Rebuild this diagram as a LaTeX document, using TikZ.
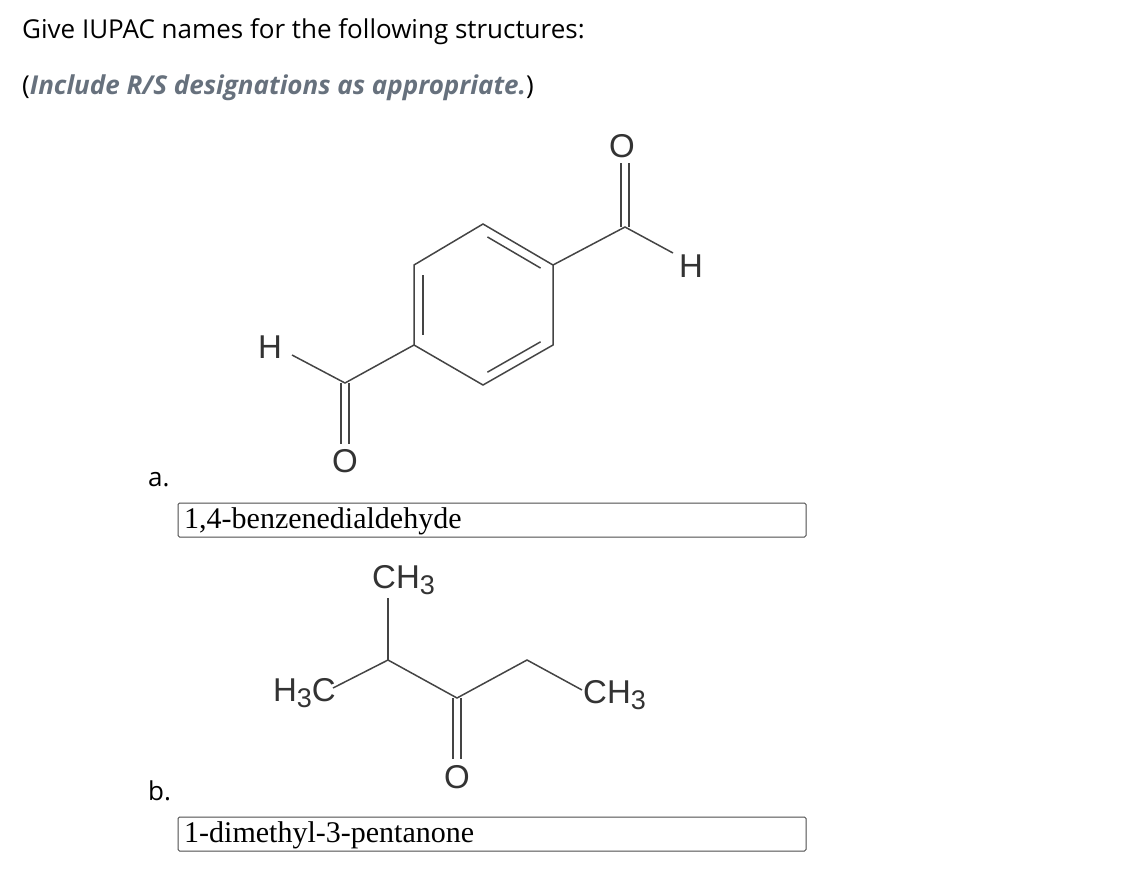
\documentclass[tikz,border=0pt]{standalone}
\usepackage{fontspec}
\usetikzlibrary{calc}
\setmainfont{Open Sans}
\newfontfamily\chem{Liberation Sans}
\newfontfamily\ans{Liberation Serif}
\definecolor{slate}{HTML}{67717D}
\definecolor{bond}{HTML}{444444}
\newcommand{\sbs}[1]{\raisebox{-0.3ex}{\fontsize{27}{27}\selectfont #1}}
\begin{document}
\begin{tikzpicture}[x=1pt,y=-1pt,
  bnd/.style={draw=bond,line width=1.5pt},
  atom/.style={font=\chem\fontsize{33}{33}\selectfont,text=black!80,inner sep=0pt},
  ansbox/.style={draw=black!70,line width=1pt,rounded corners=1.5pt},
  anstext/.style={font=\ans\fontsize{30}{30}\selectfont,anchor=west,inner sep=0pt},
  lbl/.style={font=\fontsize{26}{26}\selectfont,anchor=base west,inner sep=0pt}]
\useasboundingbox (0,0) rectangle (1146,876);
\node[lbl] (title) at (22,38) {Give IUPAC names for the following structures:};
\node[lbl] (note) at (22,94) {(\textcolor{slate}{\bfseries\itshape Include R/S designations as appropriate.})};
\node[lbl] (la) at (148,486) {a.};
\node[lbl] (lb) at (148,800) {b.};
% answer boxes
\draw[ansbox] (178,503) rectangle (806,537);
\node[anstext] (ansa) at (184,521) {1,4-benzenedialdehyde};
\draw[ansbox] (178,817) rectangle (806,851);
\node[anstext] (ansb) at (184,835) {1-dimethyl-3-pentanone};
% benzene
\coordinate (t) at (483,224);
\coordinate (ur) at (553,265);
\coordinate (lr) at (553,345);
\coordinate (bo) at (483,385);
\coordinate (ll) at (414,345);
\coordinate (ul) at (414,265);
\draw[bnd] (t)--(ur)--(lr)--(bo)--(ll)--(ul)--cycle;
\draw[bnd] ($(t)!0.12!(ur)+(-4,8)$) -- ($(t)!0.88!(ur)+(-4,8)$);
\draw[bnd] (423,275) -- (423,335);
\draw[bnd] ($(lr)!0.12!(bo)+(-4,-8)$) -- ($(lr)!0.88!(bo)+(-4,-8)$);
% right CHO
\coordinate (c1) at (625,227);
\node[atom] (o1) at (622,146) {O};
\node[atom] (h1) at (691,266) {H};
\draw[bnd] (ur) -- (c1) -- (673,253);
\draw[bnd] (621,227) -- (621,163);
\draw[bnd] (629,227) -- (629,163);
% left CHO
\coordinate (c2) at (345,383);
\node[atom] (o2) at (345,461) {O};
\node[atom] (h2) at (270,347) {H};
\draw[bnd] (ll) -- (c2) -- (292,355);
\draw[bnd] (341,383) -- (341,444);
\draw[bnd] (349,383) -- (349,444);
% structure b
\node[atom,anchor=west] (ch3t) at (372,580) {CH\sbs{3}};
\node[atom,anchor=east] (h3c) at (336,693) {H\sbs{3}C};
\node[atom,anchor=west] (ch3r) at (583,695) {CH\sbs{3}};
\node[atom] (o3) at (457,777) {O};
\coordinate (br) at (388,660);
\coordinate (co) at (457,698);
\coordinate (ch2) at (527,660);
\draw[bnd] (388,598) -- (br);
\draw[bnd] (333,688) -- (br) -- (co) -- (ch2) -- (582,690);
\draw[bnd] (453,698) -- (453,759);
\draw[bnd] (461,698) -- (461,759);
\end{tikzpicture}
\end{document}
